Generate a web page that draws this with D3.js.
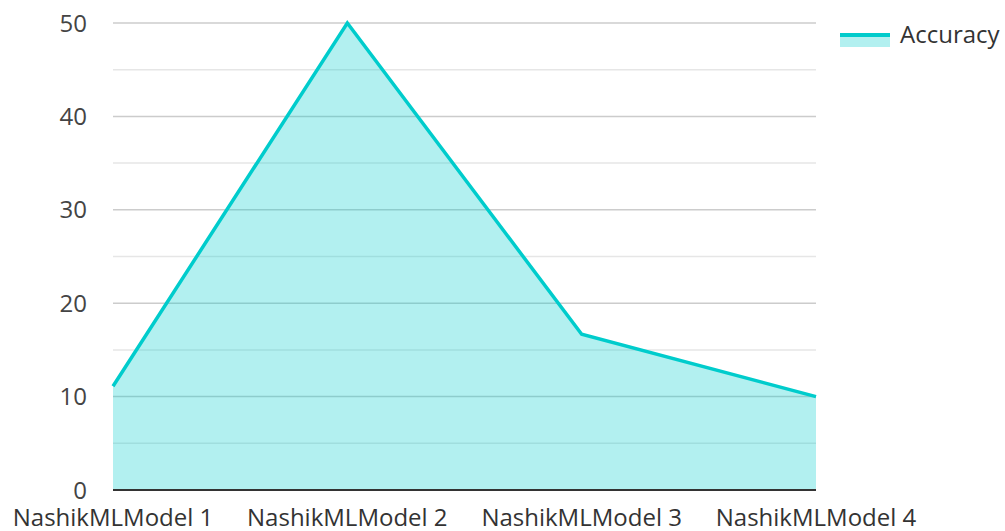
<!DOCTYPE html>
<html>
<head>
<meta charset="utf-8">
<script src="https://cdn.jsdelivr.net/npm/d3@7"></script>
<style>
  body { margin: 0; background: #fff; }
  text { font-family: "Open Sans", "Noto Sans", sans-serif; }
</style>
</head>
<body>
<svg id="chart" width="1005" height="531"></svg>
<script>
// chart data
var models = ["NashikMLModel 1", "NashikMLModel 2", "NashikMLModel 3", "NashikMLModel 4"];
var accuracy = [11.11, 50, 16.67, 10];
var majorTicks = [0, 10, 20, 30, 40, 50];
var minorTicks = [5, 15, 25, 35, 45];
var seriesName = "Accuracy";

var svg = d3.select("#chart");
var lineColor = "#00cccc";

// plot box (don't use `top` as a name, it's window.top)
var plotLeft = 113, plotRight = 816, plotTop = 23, plotBottom = 490;

var x = d3.scalePoint().domain(models).range([plotLeft, plotRight]);
var y = d3.scaleLinear().domain([0, 50]).range([plotBottom, plotTop]);

// minor grid
svg.append("g").selectAll("line")
	.data(minorTicks).enter().append("line")
	.attr("x1", plotLeft).attr("x2", plotRight)
	.attr("y1", function(d){ return y(d); })
	.attr("y2", function(d){ return y(d); })
	.attr("stroke", "#e6e6e6")
	.attr("stroke-width", 1.5);

// major grid
svg.append("g").selectAll("line")
	.data(majorTicks.filter(function(d){ return d > 0; })).enter().append("line")
	.attr("x1", plotLeft).attr("x2", plotRight)
	.attr("y1", function(d){ return y(d); })
	.attr("y2", function(d){ return y(d); })
	.attr("stroke", "#cccccc")
	.attr("stroke-width", 1.5);

var pts = models.map(function(m, i){ return [m, accuracy[i]]; });

// area fill (semi transparent so the grid shows through)
var area = d3.area()
	.x(function(d){ return x(d[0]); })
	.y0(y(0))
	.y1(function(d){ return y(d[1]); });

svg.append("path")
	.datum(pts)
	.attr("d", area)
	.attr("fill", lineColor)
	.attr("fill-opacity", 0.3);

var line = d3.line()
	.x(function(d){ return x(d[0]); })
	.y(function(d){ return y(d[1]); });

svg.append("path")
	.datum(pts)
	.attr("d", line)
	.attr("fill", "none")
	.attr("stroke", lineColor)
	.attr("stroke-width", 3.5)
	.attr("stroke-linejoin", "miter");

// y tick labels
svg.append("g").selectAll("text")
	.data(majorTicks).enter().append("text")
	.attr("x", plotLeft - 26)
	.attr("y", function(d){ return y(d); })
	.attr("dy", "0.36em")
	.attr("text-anchor", "end")
	.attr("font-size", 24)
	.attr("fill", "#444")
	.text(function(d){ return d; });

// x axis baseline
svg.append("line")
	.attr("x1", plotLeft).attr("x2", plotRight)
	.attr("y1", y(0)).attr("y2", y(0))
	.attr("stroke", "#333")
	.attr("stroke-width", 2);

// x labels
svg.append("g").selectAll("text")
	.data(models).enter().append("text")
	.attr("x", function(d){ return x(d); })
	.attr("y", 526)
	.attr("text-anchor", "middle")
	.attr("font-size", 24)
	.attr("fill", "#333")
	.text(function(d){ return d; });

// legend
var lg = svg.append("g").attr("transform", "translate(840,33)");
lg.append("rect")
	.attr("x", 0).attr("y", 2)
	.attr("width", 50).attr("height", 12)
	.attr("fill", lineColor)
	.attr("fill-opacity", 0.3);
lg.append("line")
	.attr("x1", 0).attr("x2", 50)
	.attr("y1", 2).attr("y2", 2)
	.attr("stroke", lineColor)
	.attr("stroke-width", 4);
lg.append("text")
	.attr("x", 60).attr("y", 10)
	.attr("font-size", 24)
	.attr("fill", "#333")
	.text(seriesName);
</script>
</body>
</html>
